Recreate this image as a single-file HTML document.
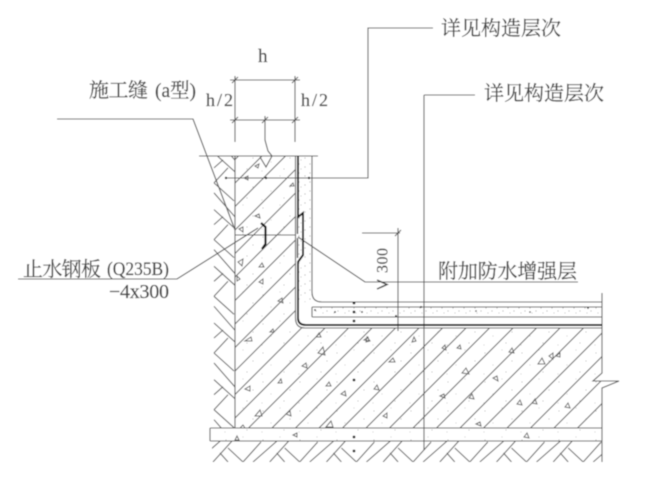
<!DOCTYPE html>
<html><head><meta charset="utf-8"><style>
html,body{margin:0;padding:0;background:#fff;width:664px;height:493px;overflow:hidden}
svg{display:block}
text{font-family:"Liberation Serif","Noto Serif CJK SC",serif;fill:#444;stroke:#555;stroke-width:.25}
</style></head><body>
<svg width="664" height="493" viewBox="0 0 664 493" xmlns="http://www.w3.org/2000/svg">
<defs>
<filter id="b" x="0" y="0" width="100%" height="100%"><feGaussianBlur stdDeviation="0.45"/></filter>
<pattern id="st" width="37" height="29" patternUnits="userSpaceOnUse">
<g fill="#bbb"><circle cx="4" cy="5" r=".6"/><circle cx="21" cy="2" r=".5"/><circle cx="31" cy="13" r=".6"/><circle cx="12" cy="17" r=".5"/><circle cx="25" cy="24" r=".6"/><circle cx="3" cy="26" r=".5"/></g>
</pattern>
<pattern id="st2" width="11" height="9" patternUnits="userSpaceOnUse">
<g fill="#aaa"><circle cx="2" cy="2" r=".6"/><circle cx="8" cy="5" r=".6"/><circle cx="4" cy="7" r=".5"/></g>
</pattern>
<clipPath id="c"><path d="M235 156H295V318Q295 328 305 328H602V373L593 381H619L602 388V428H235Z"/></clipPath>
<clipPath id="cl"><rect x="212" y="156" width="23" height="272"/></clipPath>
<clipPath id="cb"><rect x="212" y="441" width="390" height="21"/></clipPath>
<path id="u" d="M213 462L232 441M220 453L228 462M228 448L243 462M243 462L261 442M253 462L277 441" fill="none" stroke="#666" stroke-width="1.1"/>
</defs>
<g filter="url(#b)">
<rect width="664" height="493" fill="#fff"/>
<path d="M235 156H295V318Q295 328 305 328H602V373L593 381H619L602 388V428H235Z" fill="url(#st)"/>
<rect x="298" y="156" width="14" height="146" fill="url(#st2)"/>
<rect x="312" y="307" width="290" height="10" fill="url(#st2)"/>
<rect x="210" y="428" width="392" height="13" fill="url(#st)"/>

<g clip-path="url(#c)" stroke="#666" stroke-width="1.1" fill="none">
<path d="M235 159.500L238.500 156M235 183L262 156M235 206.500L285.500 156M235 230L309 156M235 253.500L332.500 156M235 277L356 156M235 300.500L379.500 156M235 324L403 156M235 347.500L426.500 156M235 371L450 156M235 394.500L473.500 156M235 418L497 156"/>
<path d="M248.500 428L520.500 156M272 428L544 156M295.500 428L567.500 156M319 428L591 156M342.500 428L602 168.500M366 428L602 192M389.500 428L602 215.500M413 428L602 239M436.500 428L602 262.500M460 428L602 286M483.500 428L602 309.500M507 428L602 333M530.500 428L602 356.500M554 428L602 380M577.500 428L602 403.500"/>
</g>

<g clip-path="url(#cl)">
<use href="#u" transform="matrix(0 1 -1 0 676 -173.500)"/>
<use href="#u" transform="matrix(0 1 -1 0 676 -116.800)"/>
<use href="#u" transform="matrix(0 1 -1 0 676 -60.100)"/>
<use href="#u" transform="matrix(0 1 -1 0 676 -3.400)"/>
<use href="#u" transform="matrix(0 1 -1 0 676 53.300)"/>
<use href="#u" transform="matrix(0 1 -1 0 676 110)"/>
<use href="#u" transform="matrix(0 1 -1 0 676 166.700)"/>
</g>

<g clip-path="url(#cb)">
<use href="#u" transform="translate(-56.700 0)"/>
<use href="#u"/>
<use href="#u" transform="translate(56.700 0)"/>
<use href="#u" transform="translate(113.400 0)"/>
<use href="#u" transform="translate(170.100 0)"/>
<use href="#u" transform="translate(226.800 0)"/>
<use href="#u" transform="translate(283.500 0)"/>
<use href="#u" transform="translate(340.200 0)"/>
</g>

<g stroke="#5a5a5a" stroke-width="1.1" fill="none">
<path d="M199 156H318"/>
<path d="M235 156V428"/>
<path d="M312 156V292Q312 302 322 302H602"/>
<path d="M295.500 156V318Q295.500 328 305 328H602"/>
<path d="M312 307H602M312 317H602M312 307V317"/>
<path d="M602 293V373L593 381H619L602 388V462"/>
<path d="M210 428H602M210 441H602M210 428V441"/>
<path d="M226 178H368V28H433"/>
<path d="M424 95H475M424 95V450"/>
<path d="M235 235H295"/>
<path d="M57 119H193L235 230"/>
<path d="M18 279H177L258 228"/>
<path d="M298 237L365 282H578"/>
<path d="M362 233H400M398 228V331"/>
<path d="M235 76V142M295 76V142M230 80H300M230 120H300M265 116V140L268 151L272 156M272 156L266 167L260 157"/>
<path d="M232 83L238 77M292 83L298 77M232 123L238 117M262 123L268 117M292 123L298 117M395 236L401 230"/>
<path d="M377 280L387 284.500L377 289" stroke-width="1.5" stroke="#444"/>
</g>

<path d="M298 156V217L303 213V255L298 262V318Q298 325 306 325H602" fill="none" stroke="#1c1c1c" stroke-width="2"/>
<path d="M297.500 216V234M297.500 238V258" fill="none" stroke="#333" stroke-width="1.3"/>
<path d="M261 223L265.500 227V244L262 249" fill="none" stroke="#111" stroke-width="2.2"/>

<g fill="#222">
<circle cx="226" cy="178" r="1.2"/><circle cx="266" cy="178" r="1.2"/><circle cx="298" cy="178" r="1.2"/><circle cx="309" cy="178" r="1.2"/>
<circle cx="354" cy="303" r="1.4"/><circle cx="354" cy="312" r="1.4"/><circle cx="354" cy="321" r="1.4"/><circle cx="354" cy="380" r="1.4"/><circle cx="354" cy="437" r="1.4"/><circle cx="354" cy="451" r="1.4"/>
<circle cx="315" cy="310" r=".9"/><circle cx="335" cy="312" r=".9"/><circle cx="362" cy="312" r=".9"/><circle cx="396" cy="316" r="1"/><circle cx="421" cy="307" r="1"/><circle cx="476" cy="311" r=".8"/><circle cx="530" cy="312" r=".8"/><circle cx="588" cy="308" r=".9"/>
</g>

<g fill="none" stroke="#666" stroke-width="1">
<path d="M244 178l4-2v4zM293 183l-3 3h4zM259 164l-4 2 3 2zM259 214l-4 2 5 2zM243 227l-4 2 4 3zM243 259l-5 3 4 4zM262 263l-3 4h5z"/>
<path d="M240 279l-3-3v5zM263 279l-4 3 4 2zM251 337l-6 4h7zM273 329l-3 3h4zM282 298l-4 3 5 2z"/>
<path d="M319 333l-3 4h5zM323 347l-5 6 7 2zM306 363l-4 3 5 2zM281 379l-3 4h4zM250 386l-5 3 5 2zM260 410l-5 6h7zM290 411l-4 3 5 2zM243 425l-3 3h5z"/>
<path d="M329 382l-3 4h5zM345 391l-4 3 5 2zM377 385l-3 4 5 1zM387 413l-4 3 4 2zM331 421l-5 6h7zM368 337l-4 3 5 1zM367 337l-1 5 4-1z"/>
<path d="M393 358l-4 4h6zM414 337l-2 5 4-1zM445 345l-3 3 4 2zM460 345l-3 3 4 1zM466 368l-4 5 7 1zM512 348l-3 4 5 1zM497 376l-4 2 5 3zM542 358l-4 6h7zM553 353l-4 3 4 3zM560 353l-4 3 4 1z"/>
<path d="M444 394l-4 2 5 2zM472 394l-3 4 5 1zM520 400l-3 4 5 1zM535 399l-3 4 5 1zM568 403l-3 4 5 1zM480 422l-4 2 5 2zM527 433l-3 4 5 1zM297 433l-4 2 4 2zM237 436l-2 4h4z"/>
</g>

<text x="89" y="97" font-size="20" textLength="59" lengthAdjust="spacing">施工缝</text>
<text x="155" y="97" font-size="20" textLength="41" lengthAdjust="spacingAndGlyphs">(a型)</text>
<text x="23" y="276" font-size="20" textLength="78" lengthAdjust="spacing">止水钢板</text>
<text x="107" y="275" font-size="19" textLength="62" lengthAdjust="spacingAndGlyphs">(Q235B)</text>
<text x="109" y="298" font-size="20" textLength="60" lengthAdjust="spacing">−4x300</text>
<text x="258" y="62" font-size="19">h</text>
<text x="206" y="106" font-size="18" textLength="27" lengthAdjust="spacing">h/2</text>
<text x="301" y="106" font-size="18" textLength="27" lengthAdjust="spacing">h/2</text>
<text x="441" y="35" font-size="20" textLength="120" lengthAdjust="spacing">详见构造层次</text>
<text x="484" y="100" font-size="20" textLength="120" lengthAdjust="spacing">详见构造层次</text>
<text x="438" y="278" font-size="20" textLength="139" lengthAdjust="spacing">附加防水增强层</text>
<text transform="translate(387.500,273) rotate(-90)" font-size="16" textLength="25" lengthAdjust="spacing">300</text>
</g>
</svg>
</body></html>
